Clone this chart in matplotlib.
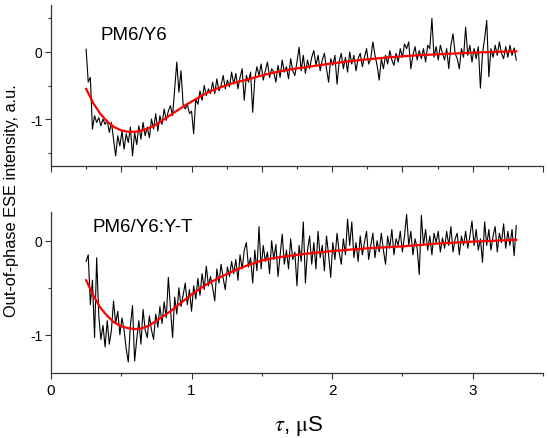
import numpy as np
import matplotlib.pyplot as plt
from matplotlib.ticker import MultipleLocator

plt.rcParams['font.family'] = ['Liberation Sans', 'DejaVu Sans']
plt.rcParams['mathtext.fontset'] = 'stix'
plt.rcParams['axes.unicode_minus'] = False

# time grid of the measured traces (us)
t = np.round(np.arange(205) * 0.015 + 0.25, 4)

# PM6/Y6 trace
y_top = [
    0.04, -0.45, -0.38, -1.15, -0.95, -1.05, -0.98, -1.10, -1.00, -1.08,
    -1.02, -1.20, -1.05, -1.30, -1.55, -1.25, -1.40, -1.18, -1.45, -1.22,
    -1.35, -1.12, -1.55, -1.20, -1.38, -1.10, -1.30, -1.05, -1.25, -1.12,
    -1.28, -1.00, -1.15, -0.92, -1.18, -0.95, -1.08, -0.85, -1.02, -0.88,
    -0.80, -0.95, -0.55, -0.15, -0.60, -0.28, -0.78, -0.85, -0.78, -0.92,
    -0.88, -1.22, -0.70, -0.78, -0.58, -0.72, -0.50, -0.65, -0.55, -0.62,
    -0.45, -0.62, -0.40, -0.58, -0.50, -0.35, -0.55, -0.42, -0.52, -0.30,
    -0.48, -0.32, -0.55, -0.38, -0.25, -0.72, -0.35, -0.45, -0.30, -0.90,
    -0.40, -0.22, -0.35, -0.18, -0.42, -0.28, -0.15, -0.38, -0.25, -0.30,
    -0.45, -0.20, -0.38, -0.12, -0.30, -0.22, -0.40, -0.10, -0.28, -0.35,
    -0.15, 0.07, -0.28, -0.05, -0.32, -0.12, -0.25, -0.08, 0.02, -0.20,
    -0.05, -0.28, -0.12, -0.02, -0.25, -0.45, -0.10, -0.20, -0.05, -0.48,
    -0.15, -0.02, -0.25, -0.08, -0.30, 0.00, -0.18, -0.05, -0.28, -0.10,
    -0.02, -0.22, -0.08, 0.05, -0.18, -0.10, 0.15, -0.05, -0.20, -0.42,
    -0.10, -0.25, -0.05, -0.18, 0.02, -0.12, -0.20, -0.02, -0.15, 0.05,
    -0.08, 0.12, 0.05, 0.15, -0.25, -0.05, 0.08, -0.12, 0.02, -0.10,
    0.05, -0.15, 0.10, 0.05, 0.50, -0.08, 0.08, -0.12, 0.10, -0.02,
    -0.12, 0.05, -0.25, 0.10, 0.27, -0.02, -0.10, -0.25, 0.05, -0.08,
    0.37, -0.05, 0.10, -0.15, 0.05, -0.10, 0.08, -0.54, -0.02, 0.20,
    0.47, -0.37, 0.05, -0.08, 0.10, -0.05, 0.15, -0.02, -0.10, 0.08,
    -0.08, 0.10, -0.05, 0.06, -0.12,
]

# PM6/Y6:Y-T trace
y_bot = [
    -0.22, -0.15, -0.68, -0.42, -1.03, -0.18, -0.80, -1.05, -0.90, -1.13,
    -0.85, -1.10, -0.95, -0.64, -0.88, -0.75, -1.00, -0.82, -0.95, -1.15,
    -1.29, -0.90, -0.69, -1.28, -1.05, -0.85, -1.10, -0.73, -0.95, -1.03,
    -0.80, -0.95, -1.05, -0.78, -0.92, -0.70, -0.88, -0.65, -0.82, -0.39,
    -0.72, -1.03, -0.60, -0.78, -0.50, -0.70, -0.58, -0.45, -0.68, -0.52,
    -0.75, -0.48, -0.62, -0.40, -0.58, -0.35, -0.52, -0.27, -0.48, -0.38,
    -0.50, -0.64, -0.30, -0.45, -0.25, -0.40, -0.52, -0.28, -0.38, -0.22,
    -0.35, -0.20, -0.42, -0.15, -0.30, -0.10, -0.02, -0.28, -0.18, -0.45,
    -0.10, -0.32, 0.15, -0.30, -0.05, -0.22, -0.12, -0.35, 0.00, -0.20,
    -0.04, -0.38, -0.15, 0.07, -0.25, -0.10, -0.30, 0.02, -0.20, -0.12,
    -0.48, -0.05, -0.22, 0.20, -0.45, -0.10, 0.05, -0.25, -0.02, -0.30,
    0.10, -0.18, -0.05, -0.32, 0.05, -0.15, -0.39, -0.02, -0.20, 0.08,
    -0.12, -0.25, 0.02, -0.15, 0.23, -0.05, 0.20, -0.18, -0.02, -0.22,
    0.05, -0.15, -0.02, 0.10, -0.20, -0.05, 0.08, -0.18, 0.00, -0.12,
    0.08, -0.10, -0.25, 0.05, -0.08, 0.12, -0.15, 0.02, -0.05, 0.10,
    -0.12, 0.05, 0.28, -0.05, 0.10, -0.15, 0.02, -0.08, -0.36, 0.27,
    -0.05, 0.12, -0.10, 0.05, -0.15, 0.08, -0.02, 0.10, -0.12, 0.03,
    -0.08, 0.10, -0.05, 0.15, -0.12, 0.02, 0.08, -0.15, 0.05, -0.05,
    0.10, -0.08, 0.05, 0.21, -0.05, 0.12, -0.10, 0.02, -0.23, 0.20,
    -0.05, 0.12, -0.10, 0.05, 0.15, -0.12, 0.08, -0.02, 0.18, -0.08,
    0.10, -0.05, 0.12, -0.16, 0.16,
]

# fitted curves (red)
fit_top_t = [0.25, 0.30, 0.35, 0.40, 0.45, 0.50, 0.55, 0.60, 0.65, 0.70,
             0.75, 0.80, 0.85, 0.90, 0.95, 1.00, 1.05, 1.10, 1.15, 1.20,
             1.30, 1.40, 1.50, 1.60, 1.70, 1.80, 1.90, 2.00, 2.20, 2.40,
             2.60, 2.80, 3.00, 3.31]
fit_top_y = [-0.55, -0.76, -0.92, -1.04, -1.12, -1.17, -1.19, -1.19, -1.17, -1.13,
             -1.08, -1.01, -0.94, -0.87, -0.80, -0.74, -0.68, -0.62, -0.57, -0.53,
             -0.46, -0.41, -0.35, -0.30, -0.26, -0.23, -0.20, -0.17, -0.12, -0.08,
             -0.05, -0.03, -0.01, 0.01]

fit_bot_t = [0.25, 0.30, 0.35, 0.40, 0.45, 0.50, 0.55, 0.60, 0.65, 0.70,
             0.75, 0.80, 0.85, 0.90, 0.95, 1.00, 1.10, 1.20, 1.30, 1.40,
             1.50, 1.60, 1.80, 2.00, 2.25, 2.50, 2.75, 3.00, 3.31]
fit_bot_y = [-0.42, -0.58, -0.71, -0.80, -0.87, -0.91, -0.93, -0.94, -0.93, -0.90,
             -0.85, -0.80, -0.75, -0.69, -0.63, -0.57, -0.47, -0.39, -0.32, -0.26,
             -0.21, -0.18, -0.14, -0.11, -0.08, -0.06, -0.03, -0.01, 0.01]

fig = plt.figure(figsize=(5.5, 4.39), dpi=100)
ax1 = fig.add_axes([0.0927, 0.6196, 0.8945, 0.3667])
ax2 = fig.add_axes([0.0927, 0.148, 0.8945, 0.3667])

panels = [
    (ax1, y_top, fit_top_t, fit_top_y, (-1.70, 0.70), "PM6/Y6", 101, 40),
    (ax2, y_bot, fit_bot_t, fit_bot_y, (-1.407, 0.305), "PM6/Y6:Y-T", 93, 232),
]

for ax, yd, ft, fy, ylim, name, xpx, base_px in panels:
    ax.plot(t, yd, color='black', lw=0.8)
    ax.plot(ft, fy, color='red', lw=1.6)
    ax.set_xlim(0, 3.5)
    ax.set_ylim(*ylim)
    for s in ['top', 'right']:
        ax.spines[s].set_visible(False)
    for s in ['left', 'bottom']:
        ax.spines[s].set_color('#333333')
        ax.spines[s].set_linewidth(0.9)
    ax.yaxis.set_major_locator(MultipleLocator(1))
    ax.yaxis.set_minor_locator(MultipleLocator(0.5))
    ax.tick_params(which='major', length=4, width=0.8, color='#333333', labelsize=10)
    ax.tick_params(which='minor', length=2.5, width=0.8, color='#333333')
    ax.tick_params(axis='y', pad=2)
    fig.text(xpx / 550, 1 - base_px / 439, name,
             fontsize=13.5, va='baseline', ha='left')

ax1.xaxis.set_major_locator(MultipleLocator(0.5))
ax1.xaxis.set_minor_locator(MultipleLocator(0.25))
ax1.tick_params(axis='x', labelbottom=False)

ax2.xaxis.set_major_locator(MultipleLocator(1))
ax2.xaxis.set_minor_locator(MultipleLocator(0.5))
ax2.tick_params(axis='x', labelsize=11, pad=3)

fig.text(12 / 550, 1 - 201 / 439, "Out-of-phase ESE intensity, a.u.",
         rotation=90, ha='center', va='center', fontsize=11.8)
fig.text(299 / 550, 1 - 431 / 439, r"$\tau$, $\mathrm{\mu}$S",
         ha='center', va='baseline', fontsize=16)

fig.savefig("out.png", dpi=100)
